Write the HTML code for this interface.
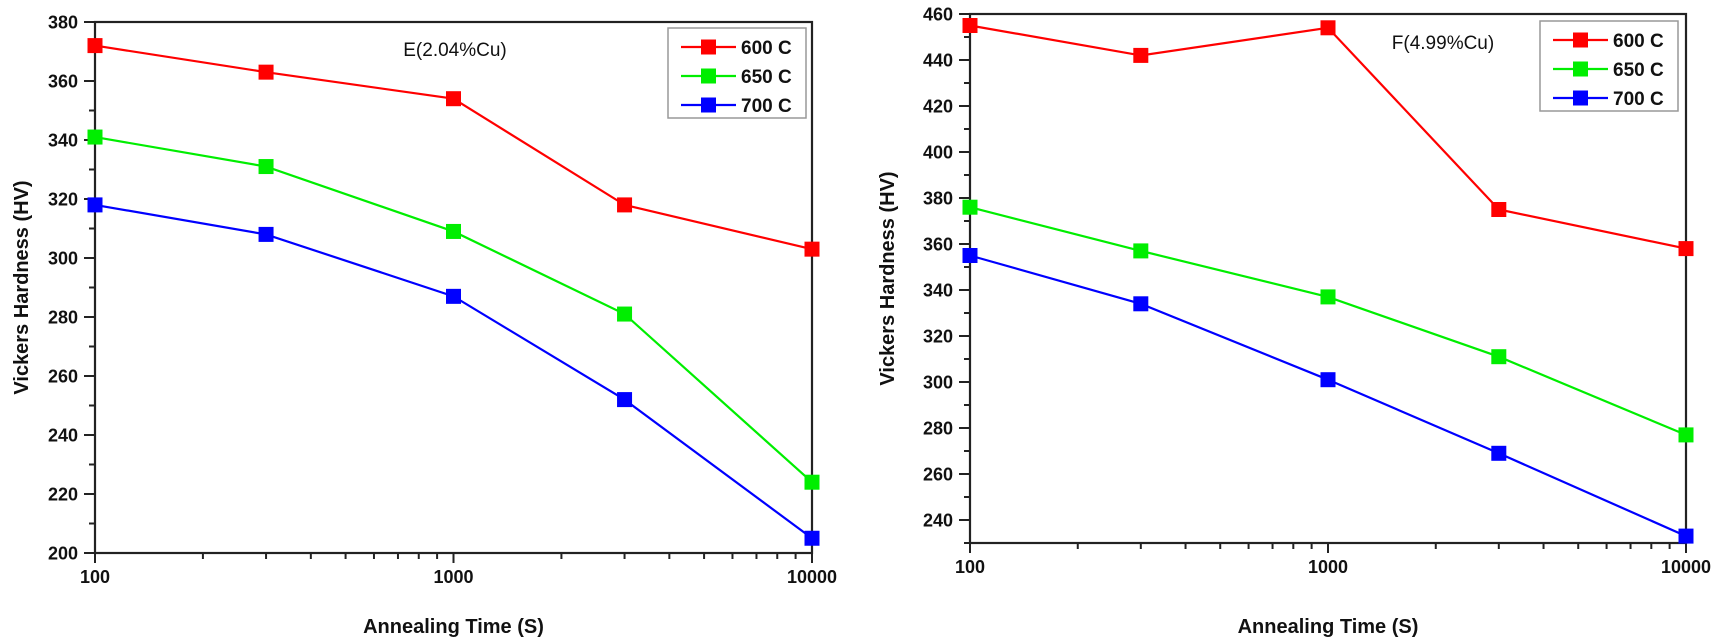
<!DOCTYPE html>
<html><head><meta charset="utf-8"><style>
html,body{margin:0;padding:0;background:#fff;}
svg{display:block;font-family:"Liberation Sans",Arial,sans-serif;font-weight:bold;}
</style></head><body>
<svg id="s" width="1720" height="640" xmlns="http://www.w3.org/2000/svg"></svg>
<script>
const S=document.getElementById('s');let h='';
const cols=['#ff0000','#00ee00','#0000ff'];
function chart(c){
 const {x0,x1,yTop,yBot,vTop,vBot,step,data,title,tx,ty,lx,ly,ylx}=c;
 const X=t=>x0+(Math.log10(t)-2)/2*(x1-x0);
 const Y=v=>yTop+(vTop-v)/(vTop-vBot)*(yBot-yTop);
 h+=`<rect x="${x0}" y="${yTop}" width="${x1-x0}" height="${yBot-yTop}" fill="none" stroke="#222" stroke-width="2.2"/>`;
 for(let v=vBot;v<=vTop+0.01;v+=step/2){
  const y=Y(v);const major=(Math.round(v)%step===0);
  h+=`<line x1="${x0-(major?11:6)}" y1="${y}" x2="${x0}" y2="${y}" stroke="#222" stroke-width="2"/>`;
  if(major) h+=`<text x="${x0-17}" y="${y+6.5}" font-size="18" text-anchor="end" fill="#111">${v}</text>`;
 }
 for(let d=100;d<=10000;d*=10){for(let m=1;m<10;m++){const t=d*m;if(t>10000)break;const x=X(t);const major=m===1;
  h+=`<line x1="${x}" y1="${yBot}" x2="${x}" y2="${yBot+(major?10:6)}" stroke="#222" stroke-width="2"/>`;
  if(major)h+=`<text x="${x}" y="${yBot+30}" font-size="18" text-anchor="middle" fill="#111">${t}</text>`;}}
 const ts=[100,300,1000,3000,10000];
 data.forEach((s,i)=>{
  const pts=s.map((v,j)=>X(ts[j])+','+Y(v)).join(' ');
  h+=`<polyline points="${pts}" fill="none" stroke="${cols[i]}" stroke-width="2.2"/>`;
  s.forEach((v,j)=>{h+=`<rect x="${X(ts[j])-7.5}" y="${Y(v)-7.5}" width="15" height="15" fill="${cols[i]}"/>`;});
 });
 h+=`<text x="${tx}" y="${ty}" font-size="19" font-weight="normal" text-anchor="middle" fill="#111">${title}</text>`;
 h+=`<rect x="${lx}" y="${ly}" width="138" height="90" fill="#fff" stroke="#999" stroke-width="1.5"/>`;
 ['600 C','650 C','700 C'].forEach((n,i)=>{const y=ly+19+i*29;
  h+=`<line x1="${lx+13}" y1="${y}" x2="${lx+68}" y2="${y}" stroke="${cols[i]}" stroke-width="2.2"/>`;
  h+=`<rect x="${lx+33}" y="${y-7.5}" width="15" height="15" fill="${cols[i]}"/>`;
  h+=`<text x="${lx+73}" y="${y+7}" font-size="19" fill="#111">${n}</text>`;});
 h+=`<text transform="translate(${ylx},${(yTop+yBot)/2}) rotate(-90)" font-size="20" text-anchor="middle" fill="#111">Vickers Hardness (HV)</text>`;
 h+=`<text x="${(x0+x1)/2}" y="633" font-size="20" text-anchor="middle" fill="#111">Annealing Time (S)</text>`;
}
chart({x0:95,x1:812,yTop:22,yBot:553,vTop:380,vBot:200,step:20,
 data:[[372,363,354,318,303],[341,331,309,281,224],[318,308,287,252,205]],
 title:'E(2.04%Cu)',tx:455,ty:56,lx:668,ly:28,ylx:28});
chart({x0:970,x1:1686,yTop:14,yBot:543,vTop:460,vBot:230,step:20,
 data:[[455,442,454,375,358],[376,357,337,311,277],[355,334,301,269,233]],
 title:'F(4.99%Cu)',tx:1443,ty:49,lx:1540,ly:21,ylx:894});
S.innerHTML=h;
</script>
</body></html>
